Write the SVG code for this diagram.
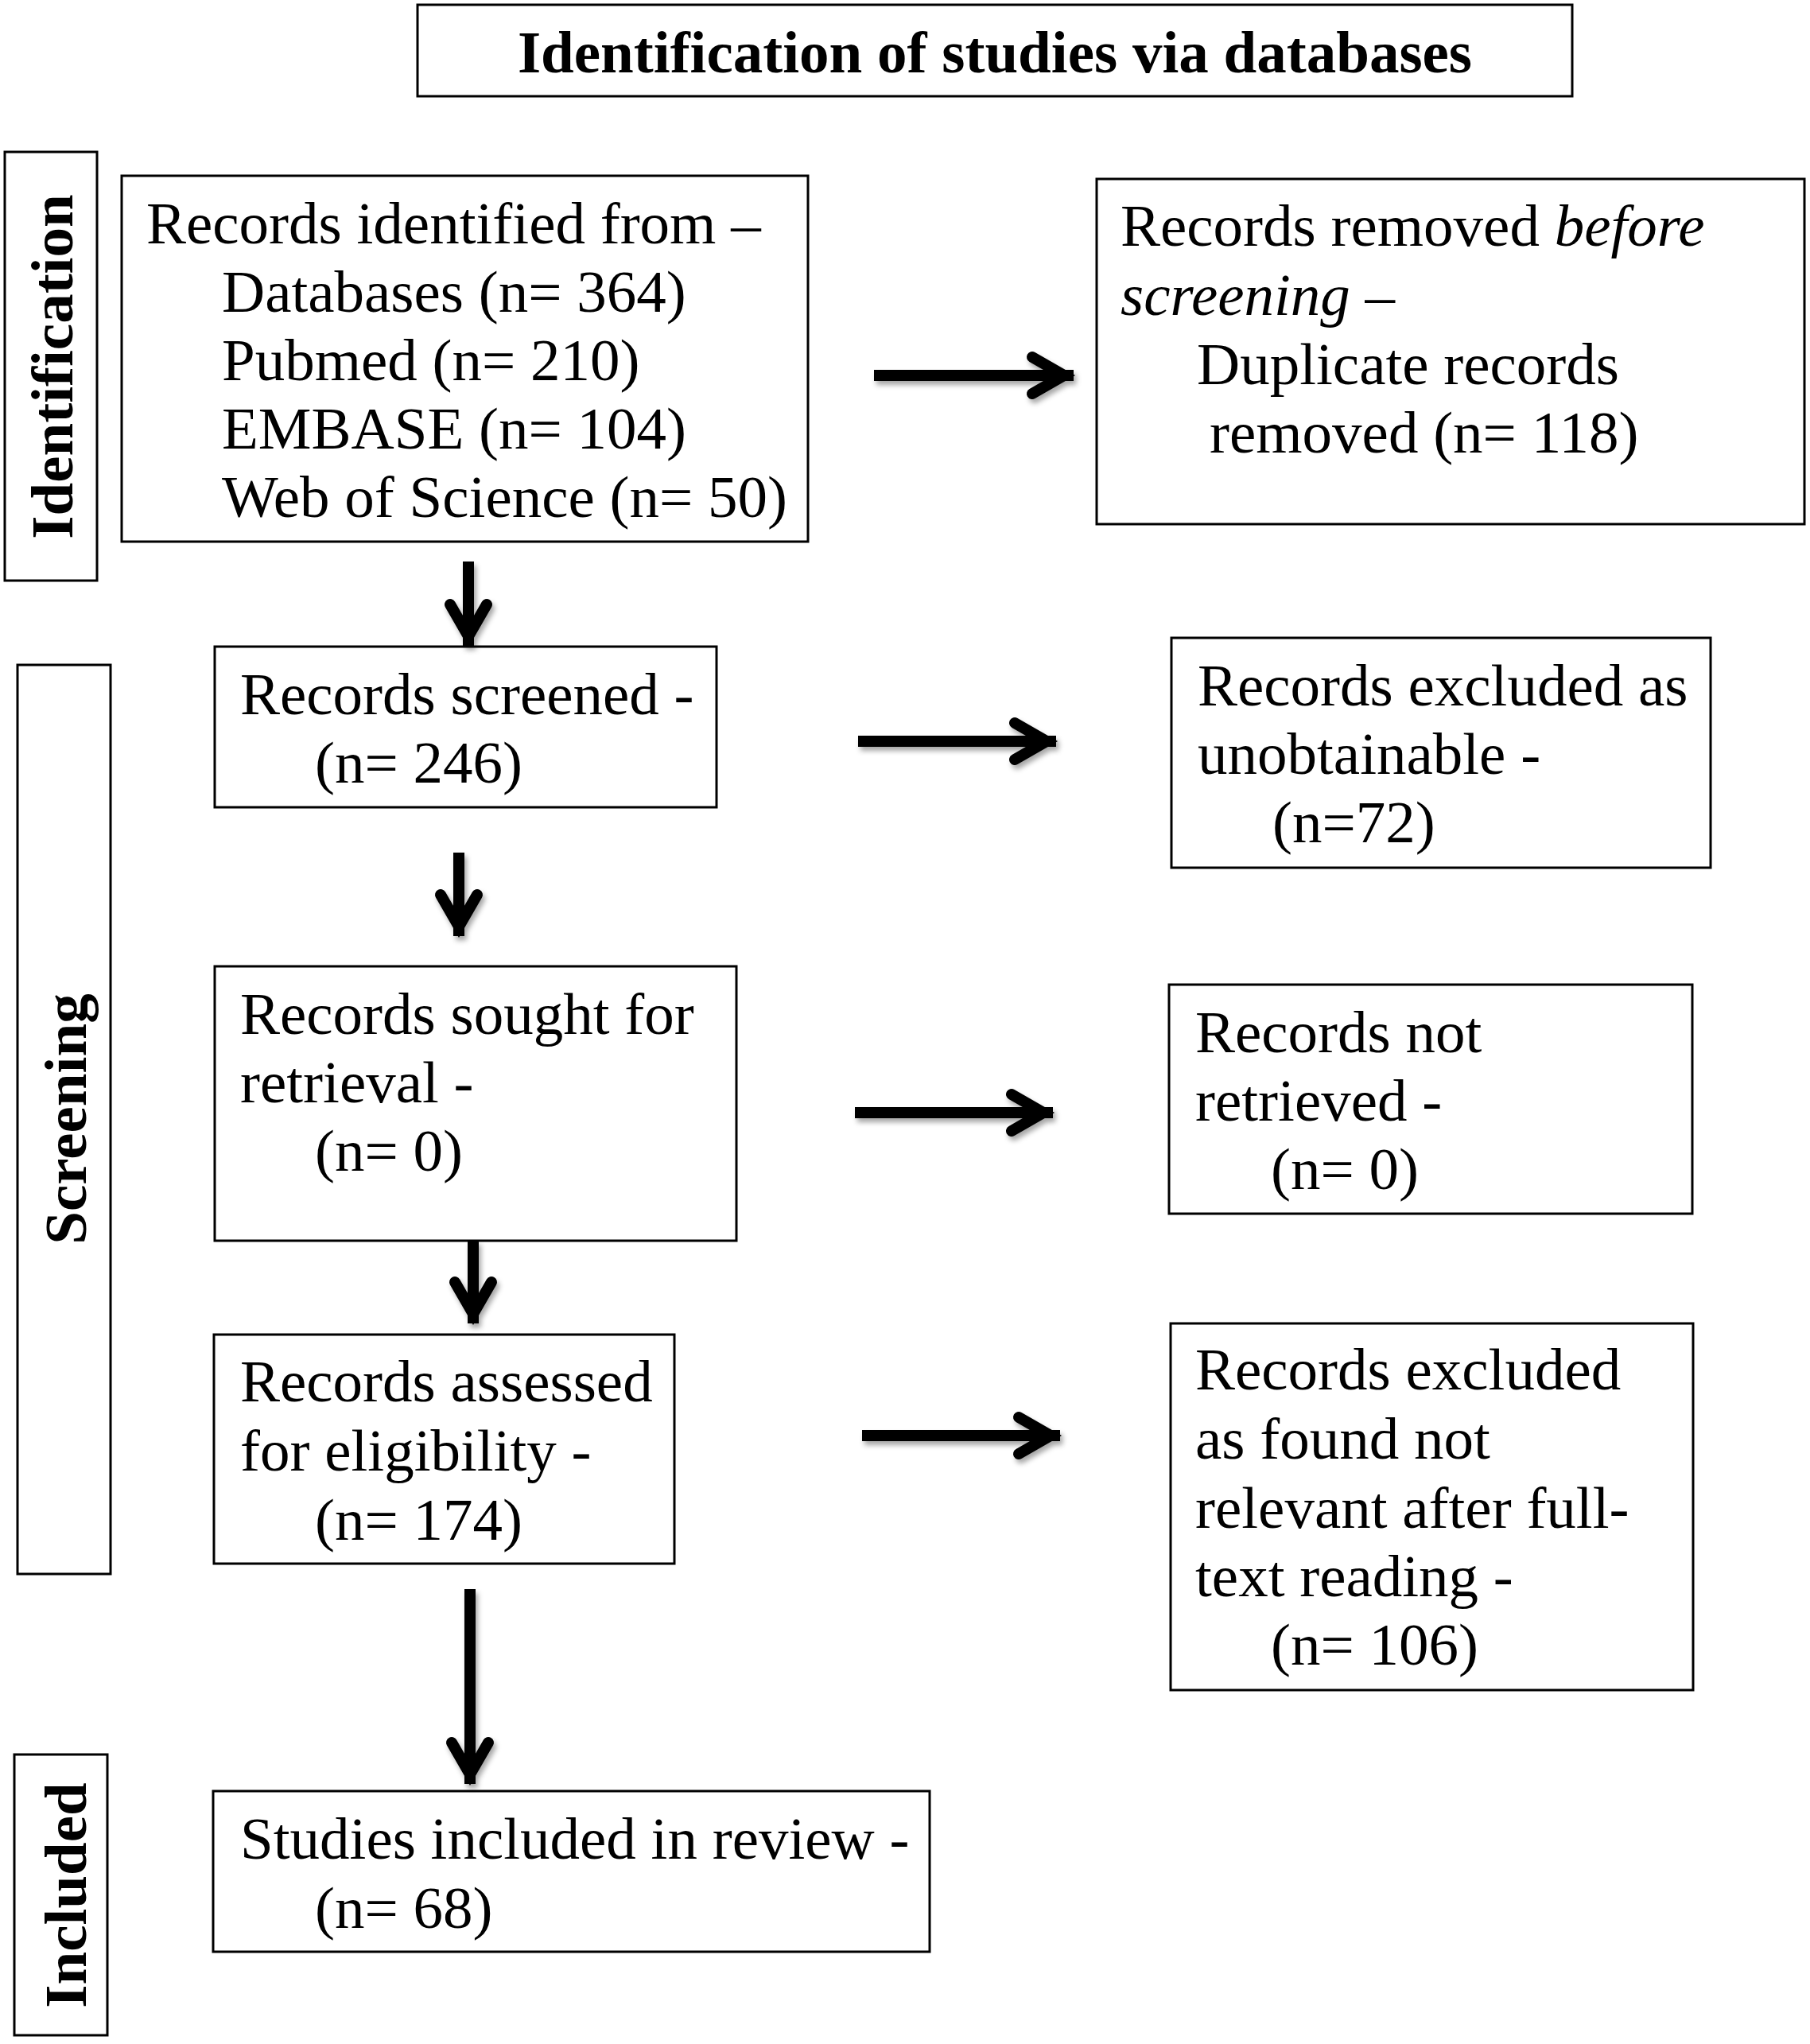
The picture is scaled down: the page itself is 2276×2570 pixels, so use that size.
<svg xmlns="http://www.w3.org/2000/svg" width="2276" height="2570" viewBox="0 0 2276 2570">
<style>
  .box { fill: #fff; stroke: #000; stroke-width: 3; }
  .t { font-family: "Liberation Serif", "Times New Roman", serif; font-size: 75px; fill: #000; }
  .b { font-family: "Liberation Serif", "Times New Roman", serif; font-size: 75px; font-weight: bold; fill: #000; }
  .arr { fill: none; stroke: #000; stroke-width: 14; stroke-linecap: butt; marker-end: url(#ah); }
</style>
<defs>
  <marker id="ah" markerUnits="userSpaceOnUse" markerWidth="100" markerHeight="100" viewBox="-70 -50 100 100" refX="0" refY="0" orient="auto" overflow="visible">
    <path d="M-52,-23 L-12,0 L-52,23" fill="none" stroke="#000" stroke-width="14" stroke-linejoin="miter" stroke-linecap="round"/>
  </marker>
  <filter id="sh" x="-20%" y="-20%" width="140%" height="140%">
    <feDropShadow dx="3" dy="5" stdDeviation="3" flood-color="#000" flood-opacity="0.35"/>
  </filter>
</defs>
<rect width="2276" height="2570" fill="#fff"/>

<g id="title">
  <rect class="box" x="525" y="6" width="1452" height="115"/>
  <text class="b" x="1251" y="91" text-anchor="middle">Identification of studies via databases</text>
</g>

<g id="phase-identification">
  <rect class="box" x="6" y="191" width="116" height="539"/>
  <text class="b" transform="translate(91,461) rotate(-90)" text-anchor="middle">Identification</text>
</g>
<g id="phase-screening">
  <rect class="box" x="22" y="836" width="117" height="1143"/>
  <text class="b" transform="translate(108,1407) rotate(-90)" text-anchor="middle">Screening</text>
</g>
<g id="phase-included">
  <rect class="box" x="18" y="2206" width="117" height="353"/>
  <text class="b" transform="translate(108,2383) rotate(-90)" text-anchor="middle">Included</text>
</g>

<g id="records-identified">
  <rect class="box" x="153" y="221" width="863" height="460"/>
  <text class="t" x="184" y="306">Records identified from –</text>
  <text class="t" x="279" y="392">Databases (n= 364)</text>
  <text class="t" x="279" y="478">Pubmed (n= 210)</text>
  <text class="t" x="279" y="564">EMBASE (n= 104)</text>
  <text class="t" x="279" y="650">Web of Science (n= 50)</text>
</g>

<g id="records-removed">
  <rect class="box" x="1379" y="225" width="890" height="434"/>
  <text class="t" x="1409" y="309">Records removed <tspan font-style="italic">before</tspan></text>
  <text class="t" x="1409" y="396"><tspan font-style="italic">screening</tspan> –</text>
  <text class="t" x="1505" y="483">Duplicate records</text>
  <text class="t" x="1521" y="569">removed (n= 118)</text>
</g>

<g id="records-screened">
  <rect class="box" x="270" y="813" width="631" height="202"/>
  <text class="t" x="302" y="898">Records screened -</text>
  <text class="t" x="396" y="984">(n= 246)</text>
</g>

<g id="records-unobtainable">
  <rect class="box" x="1473" y="802" width="678" height="289"/>
  <text class="t" x="1506" y="887">Records excluded as</text>
  <text class="t" x="1506" y="973">unobtainable -</text>
  <text class="t" x="1600" y="1059">(n=72)</text>
</g>

<g id="records-sought">
  <rect class="box" x="270" y="1215" width="656" height="345"/>
  <text class="t" x="302" y="1300">Records sought for</text>
  <text class="t" x="302" y="1386">retrieval -</text>
  <text class="t" x="396" y="1472">(n= 0)</text>
</g>

<g id="records-not-retrieved">
  <rect class="box" x="1470" y="1238" width="658" height="288"/>
  <text class="t" x="1503" y="1323">Records not</text>
  <text class="t" x="1503" y="1409">retrieved -</text>
  <text class="t" x="1598" y="1495">(n= 0)</text>
</g>

<g id="records-assessed">
  <rect class="box" x="269" y="1678" width="579" height="288"/>
  <text class="t" x="302" y="1762">Records assessed</text>
  <text class="t" x="302" y="1849">for eligibility -</text>
  <text class="t" x="396" y="1936">(n= 174)</text>
</g>

<g id="records-not-relevant">
  <rect class="box" x="1472" y="1664" width="657" height="461"/>
  <text class="t" x="1503" y="1747">Records excluded</text>
  <text class="t" x="1503" y="1834">as found not</text>
  <text class="t" x="1503" y="1921">relevant after full-</text>
  <text class="t" x="1503" y="2007">text reading -</text>
  <text class="t" x="1598" y="2093">(n= 106)</text>
</g>

<g id="studies-included">
  <rect class="box" x="268" y="2252" width="901" height="202"/>
  <text class="t" x="302" y="2337">Studies included in review -</text>
  <text class="t" x="396" y="2424">(n= 68)</text>
</g>

<g id="connectors" filter="url(#sh)">
  <path class="arr" d="M589,706 V812"/>
  <path class="arr" d="M577,1072 V1177"/>
  <path class="arr" d="M595,1560 V1664"/>
  <path class="arr" d="M591,1998 V2243"/>
  <path class="arr" d="M1099,472 H1350"/>
  <path class="arr" d="M1079,932 H1328"/>
  <path class="arr" d="M1075,1399 H1324"/>
  <path class="arr" d="M1084,1805 H1333"/>
</g>
</svg>
